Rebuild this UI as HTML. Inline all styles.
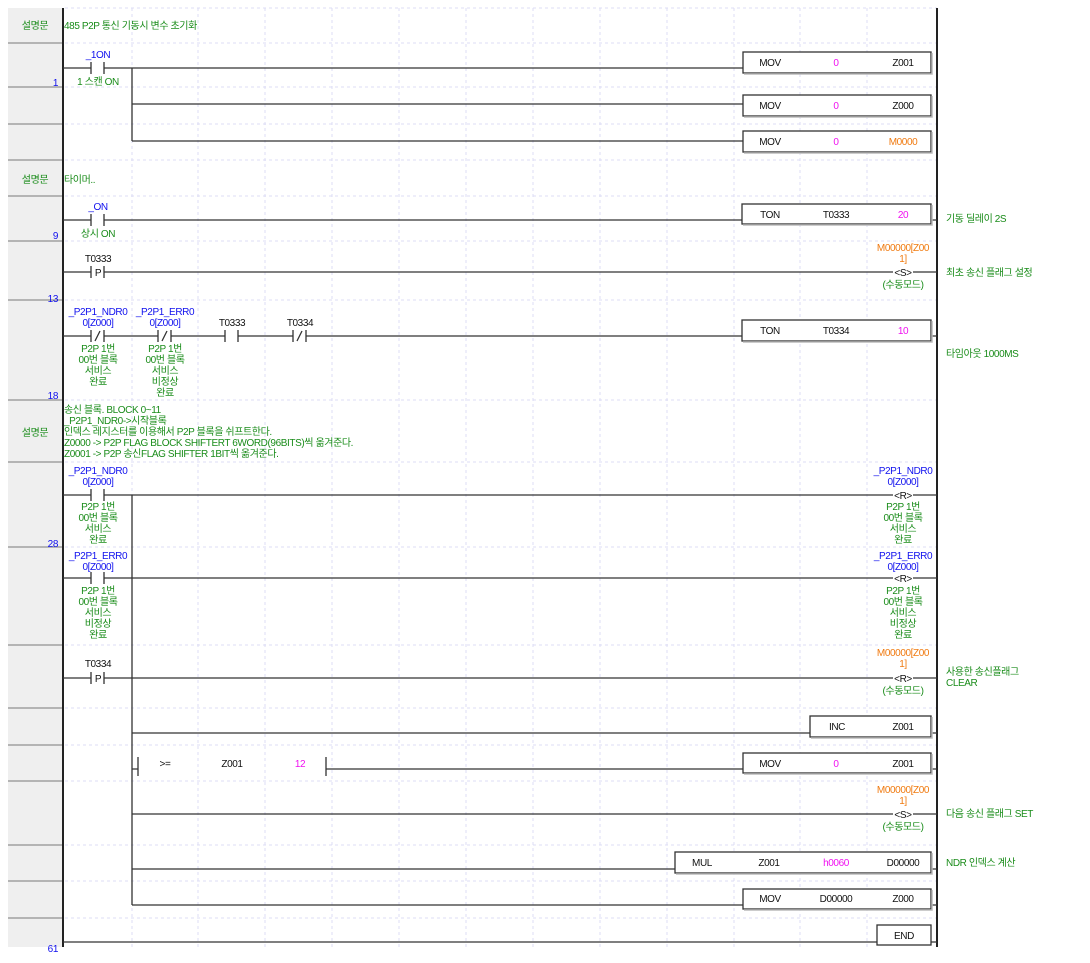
<!DOCTYPE html>
<html><head><meta charset="utf-8"><style>
html,body{margin:0;padding:0;background:#fff;}
svg{display:block;}
text{font-family:"Liberation Sans","Noto Sans CJK KR",sans-serif;font-size:10px;letter-spacing:-0.4px;}
.g{fill:#1a8c1a;}.b{fill:#1010ee;}.k{fill:#111;}.o{fill:#f07a10;}.m{fill:#f010f0;}
.c{text-anchor:middle;}
</style></head><body>
<svg width="1090" height="963" viewBox="0 0 1090 963" xmlns="http://www.w3.org/2000/svg">
<rect x="8" y="8" width="55" height="939" fill="#efefef"/>
<g stroke="#dcdcf4" stroke-dasharray="3,3" stroke-width="1">
<line x1="132" y1="8" x2="132" y2="947"/><line x1="198" y1="8" x2="198" y2="947"/><line x1="265" y1="8" x2="265" y2="947"/><line x1="332" y1="8" x2="332" y2="947"/><line x1="399" y1="8" x2="399" y2="947"/><line x1="466" y1="8" x2="466" y2="947"/><line x1="533" y1="8" x2="533" y2="947"/><line x1="600" y1="8" x2="600" y2="947"/><line x1="667" y1="8" x2="667" y2="947"/><line x1="734" y1="8" x2="734" y2="947"/><line x1="800" y1="8" x2="800" y2="947"/><line x1="867" y1="8" x2="867" y2="947"/>
<line x1="65" y1="8" x2="937" y2="8"/><line x1="65" y1="43" x2="937" y2="43"/><line x1="65" y1="87" x2="937" y2="87"/><line x1="65" y1="124" x2="937" y2="124"/><line x1="65" y1="160" x2="937" y2="160"/><line x1="65" y1="196" x2="937" y2="196"/><line x1="65" y1="241" x2="937" y2="241"/><line x1="65" y1="300" x2="937" y2="300"/><line x1="65" y1="400" x2="937" y2="400"/><line x1="65" y1="462" x2="937" y2="462"/><line x1="65" y1="547" x2="937" y2="547"/><line x1="65" y1="645" x2="937" y2="645"/><line x1="65" y1="708" x2="937" y2="708"/><line x1="65" y1="745" x2="937" y2="745"/><line x1="65" y1="781" x2="937" y2="781"/><line x1="65" y1="845" x2="937" y2="845"/><line x1="65" y1="881" x2="937" y2="881"/><line x1="65" y1="918" x2="937" y2="918"/>
</g>
<g stroke="#a0a0a0" stroke-width="1.5">
<line x1="8" y1="43" x2="62" y2="43"/><line x1="8" y1="87" x2="62" y2="87"/><line x1="8" y1="124" x2="62" y2="124"/><line x1="8" y1="160" x2="62" y2="160"/><line x1="8" y1="196" x2="62" y2="196"/><line x1="8" y1="241" x2="62" y2="241"/><line x1="8" y1="300" x2="62" y2="300"/><line x1="8" y1="400" x2="62" y2="400"/><line x1="8" y1="462" x2="62" y2="462"/><line x1="8" y1="547" x2="62" y2="547"/><line x1="8" y1="645" x2="62" y2="645"/><line x1="8" y1="708" x2="62" y2="708"/><line x1="8" y1="745" x2="62" y2="745"/><line x1="8" y1="781" x2="62" y2="781"/><line x1="8" y1="845" x2="62" y2="845"/><line x1="8" y1="881" x2="62" y2="881"/><line x1="8" y1="918" x2="62" y2="918"/>
</g>
<rect x="62" y="8" width="2" height="939" fill="#222"/>
<rect x="936" y="8" width="2" height="939" fill="#222"/>
<g stroke="#333" stroke-width="1.3" fill="none">
<path d="M63 68H91M104 68H743M132 68V141M132 104H743M132 141H743"/>
<path d="M91 62V74M104 62V74"/>
<path d="M63 220H91M104 220H742M931 220H937M91 214V226M104 214V226"/>
<path d="M63 272H91M104 272H893M913 272H937M91 266V278M104 266V278"/>
<path d="M63 336H91M104 336H158M171 336H225M238 336H293M306 336H742M931 336H937"/>
<path d="M91 330V342M104 330V342M158 330V342M171 330V342M225 330V342M238 330V342M293 330V342M306 330V342"/>
<path d="M95 341L100 331M162 341L167 331M297 341L302 331"/>
<path d="M63 495H91M104 495H893M913 495H937M91 489V501M104 489V501"/>
<path d="M63 578H91M104 578H893M913 578H937M91 572V584M104 572V584"/>
<path d="M63 678H91M104 678H893M913 678H937M91 672V684M104 672V684"/>
<path d="M132 495V905"/>
<path d="M132 733H810M931 733H937"/>
<path d="M132 769H138M138 757V776M326 757V776M326 769H743M931 769H937"/>
<path d="M132 814H893M913 814H937"/>
<path d="M132 869H675M931 869H937"/>
<path d="M132 905H743M931 905H937"/>
<path d="M63 942H877M931 942H937"/>
</g>
<g fill="#fff" stroke="#333" stroke-width="1.3">
<rect x="743" y="52" width="188" height="21"/><rect x="743" y="95" width="188" height="21"/><rect x="743" y="131" width="188" height="21"/>
<rect x="742" y="204" width="189" height="20"/><rect x="742" y="320" width="189" height="21"/>
<rect x="810" y="716" width="121" height="21"/><rect x="743" y="753" width="188" height="20"/>
<rect x="675" y="852" width="256" height="21"/><rect x="743" y="889" width="188" height="20"/>
<rect x="877" y="925" width="54" height="20"/>
</g>
<g stroke="#bbb" stroke-width="1.5" fill="none">
<path d="M744 74H932V53"/><path d="M744 117H932V96"/><path d="M744 153H932V132"/><path d="M743 225H932V205"/><path d="M743 342H932V321"/><path d="M811 738H932V717"/><path d="M744 774H932V754"/><path d="M676 874H932V853"/><path d="M744 910H932V890"/>
</g>
<text x="35" y="29" class="g c">설명문</text>
<text x="35" y="183" class="g c">설명문</text>
<text x="35" y="436" class="g c">설명문</text>
<text x="58" y="86" class="b" text-anchor="end">1</text>
<text x="58" y="239" class="b" text-anchor="end">9</text>
<text x="58" y="302" class="b" text-anchor="end">13</text>
<text x="58" y="399" class="b" text-anchor="end">18</text>
<text x="58" y="547" class="b" text-anchor="end">28</text>
<text x="58" y="952" class="b" text-anchor="end">61</text>
<text x="64" y="29" class="g">485 P2P 통신 기동시 변수 초기화</text>
<text x="64" y="183" class="g">타이머..</text>
<g class="g"><text x="64" y="413">송신 블록. BLOCK 0~11</text><text x="64" y="424">_P2P1_NDR0-&gt;시작블록</text><text x="64" y="435">인덱스 레지스터를 이용해서 P2P 블록을 쉬프트한다.</text><text x="64" y="446">Z0000 -&gt; P2P FLAG BLOCK SHIFTERT 6WORD(96BITS)씩 옮겨준다.</text><text x="64" y="457">Z0001 -&gt; P2P 송신FLAG SHIFTER   1BIT씩 옮겨준다.</text></g>
<text x="98" y="58" class="b c">_1ON</text><text x="98" y="85" class="g c">1 스캔 ON</text>
<g class="k c"><text x="770" y="66">MOV</text><text x="903" y="66">Z001</text><text x="770" y="109">MOV</text><text x="903" y="109">Z000</text><text x="770" y="145">MOV</text></g>
<text x="836" y="66" class="m c">0</text><text x="836" y="109" class="m c">0</text><text x="836" y="145" class="m c">0</text><text x="903" y="145" class="o c">M0000</text>
<text x="98" y="210" class="b c">_ON</text><text x="98" y="237" class="g c">상시 ON</text>
<g class="k c"><text x="770" y="218">TON</text><text x="836" y="218">T0333</text></g><text x="903" y="218" class="m c">20</text>
<text x="946" y="222" class="g">기동 딜레이 2S</text>
<text x="98" y="262" class="k c">T0333</text><text x="98" y="276" class="k c">P</text>
<text x="903" y="251" class="o c">M00000[Z00</text><text x="903" y="262" class="o c">1]</text><text x="903" y="276" class="k c">&lt;S&gt;</text><text x="903" y="288" class="g c">(수동모드)</text>
<text x="946" y="276" class="g">최초 송신 플래그 설정</text>
<g class="b c"><text x="98" y="315">_P2P1_NDR0</text><text x="98" y="326">0[Z000]</text><text x="165" y="315">_P2P1_ERR0</text><text x="165" y="326">0[Z000]</text></g>
<text x="232" y="326" class="k c">T0333</text><text x="300" y="326" class="k c">T0334</text>
<g class="g c"><text x="98" y="352">P2P 1번</text><text x="98" y="363">00번 블록</text><text x="98" y="374">서비스</text><text x="98" y="385">완료</text>
<text x="165" y="352">P2P 1번</text><text x="165" y="363">00번 블록</text><text x="165" y="374">서비스</text><text x="165" y="385">비정상</text><text x="165" y="396">완료</text></g>
<g class="k c"><text x="770" y="334">TON</text><text x="836" y="334">T0334</text></g><text x="903" y="334" class="m c">10</text>
<text x="946" y="357" class="g">타임아웃 1000MS</text>
<g class="b c"><text x="98" y="474">_P2P1_NDR0</text><text x="98" y="485">0[Z000]</text><text x="98" y="559">_P2P1_ERR0</text><text x="98" y="570">0[Z000]</text>
<text x="903" y="474">_P2P1_NDR0</text><text x="903" y="485">0[Z000]</text><text x="903" y="559">_P2P1_ERR0</text><text x="903" y="570">0[Z000]</text></g>
<g class="g c"><text x="98" y="510">P2P 1번</text><text x="98" y="521">00번 블록</text><text x="98" y="532">서비스</text><text x="98" y="543">완료</text>
<text x="903" y="510">P2P 1번</text><text x="903" y="521">00번 블록</text><text x="903" y="532">서비스</text><text x="903" y="543">완료</text>
<text x="98" y="594">P2P 1번</text><text x="98" y="605">00번 블록</text><text x="98" y="616">서비스</text><text x="98" y="627">비정상</text><text x="98" y="638">완료</text>
<text x="903" y="594">P2P 1번</text><text x="903" y="605">00번 블록</text><text x="903" y="616">서비스</text><text x="903" y="627">비정상</text><text x="903" y="638">완료</text></g>
<text x="903" y="499" class="k c">&lt;R&gt;</text><text x="903" y="582" class="k c">&lt;R&gt;</text>
<text x="98" y="667" class="k c">T0334</text><text x="98" y="682" class="k c">P</text>
<text x="903" y="656" class="o c">M00000[Z00</text><text x="903" y="667" class="o c">1]</text><text x="903" y="682" class="k c">&lt;R&gt;</text><text x="903" y="694" class="g c">(수동모드)</text>
<text x="946" y="675" class="g">사용한 송신플래그</text><text x="946" y="686" class="g">CLEAR</text>
<g class="k c"><text x="837" y="730">INC</text><text x="903" y="730">Z001</text></g>
<text x="165" y="767" class="k c">&gt;=</text><text x="232" y="767" class="k c">Z001</text><text x="300" y="767" class="m c">12</text>
<g class="k c"><text x="770" y="767">MOV</text><text x="903" y="767">Z001</text></g><text x="836" y="767" class="m c">0</text>
<text x="903" y="793" class="o c">M00000[Z00</text><text x="903" y="804" class="o c">1]</text><text x="903" y="818" class="k c">&lt;S&gt;</text><text x="903" y="830" class="g c">(수동모드)</text>
<text x="946" y="817" class="g">다음 송신 플래그 SET</text>
<g class="k c"><text x="702" y="866">MUL</text><text x="769" y="866">Z001</text><text x="903" y="866">D00000</text></g><text x="836" y="866" class="m c">h0060</text>
<text x="946" y="866" class="g">NDR 인덱스 계산</text>
<g class="k c"><text x="770" y="902">MOV</text><text x="836" y="902">D00000</text><text x="903" y="902">Z000</text><text x="904" y="939">END</text></g>
</svg>
</body></html>
